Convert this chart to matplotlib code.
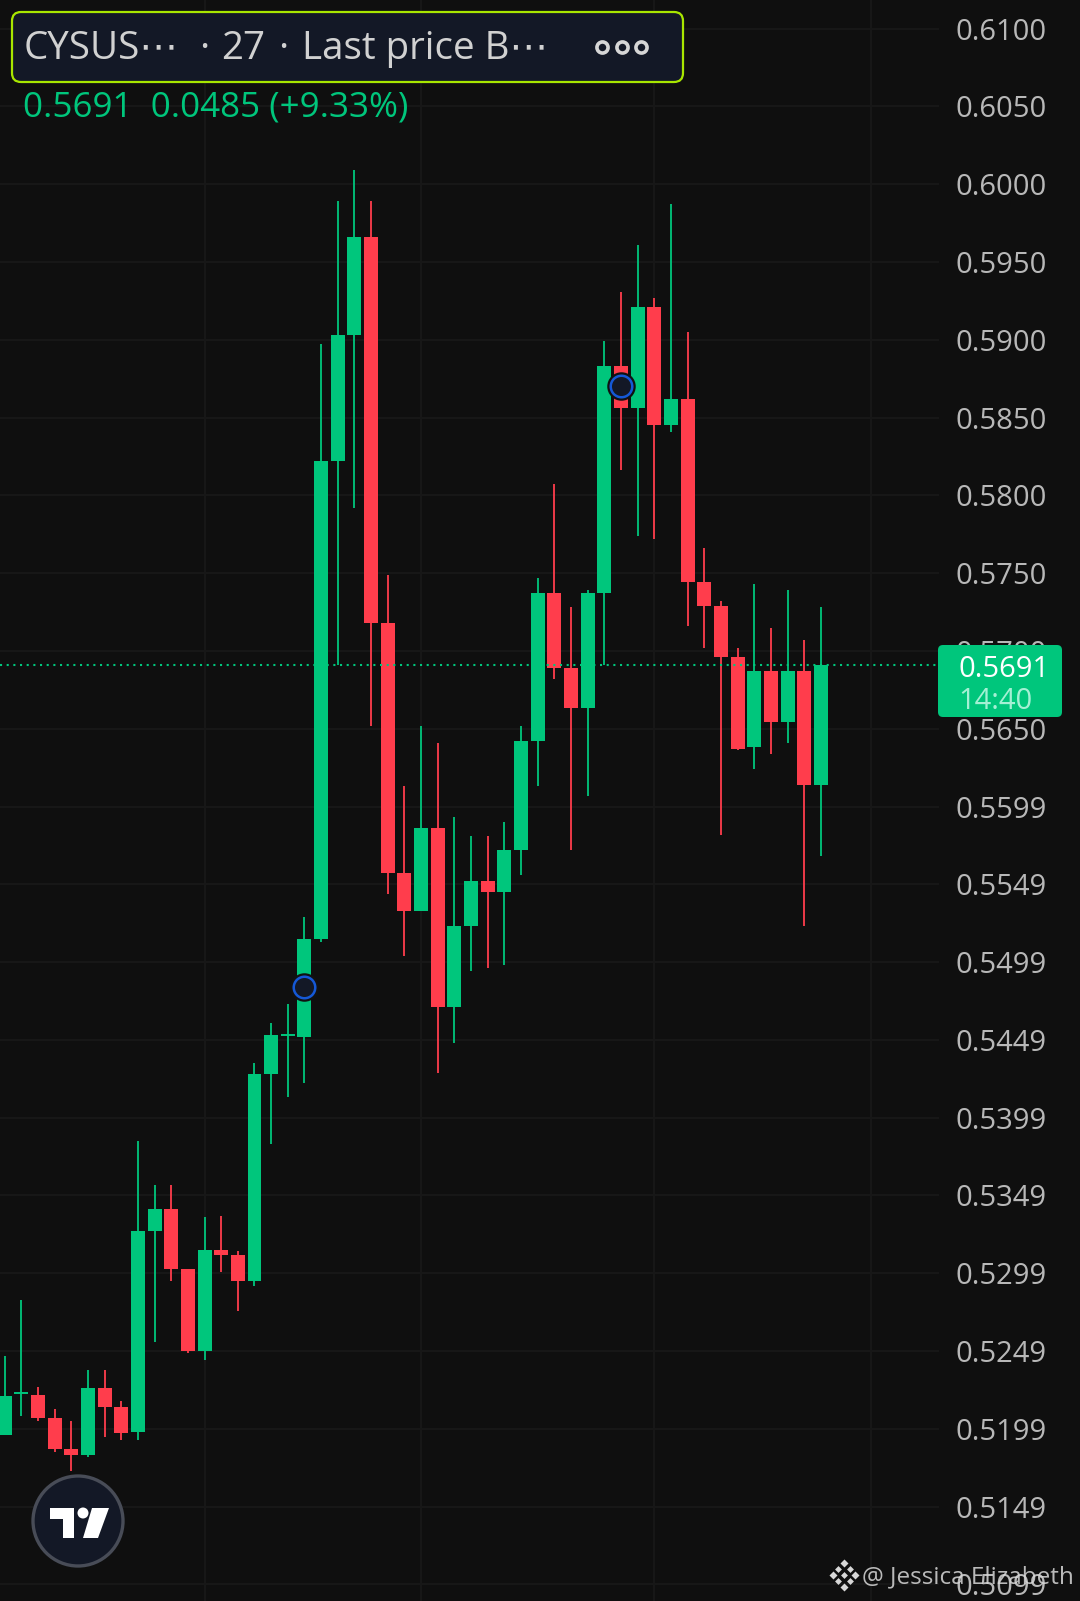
#!/usr/bin/env python3
import numpy as np
import matplotlib
matplotlib.use('Agg')
import matplotlib.pyplot as plt
from matplotlib.patches import FancyBboxPatch, Circle, Polygon

opens = [0.5196, 0.5223, 0.5222, 0.5207, 0.5187, 0.5183, 0.5226, 0.5214, 0.5198, 0.5327,
         0.5341, 0.5303, 0.5250, 0.5315, 0.5312, 0.5295, 0.5428, 0.5453, 0.5452, 0.5515,
         0.5822, 0.5903, 0.5966, 0.5718, 0.5557, 0.5533, 0.5586, 0.5471, 0.5523, 0.5552,
         0.5545, 0.5572, 0.5642, 0.5737, 0.5689, 0.5663, 0.5737, 0.5883, 0.5856, 0.5921,
         0.5845, 0.5862, 0.5744, 0.5729, 0.5696, 0.5638, 0.5687, 0.5654, 0.5687, 0.5614]
highs = [0.5247, 0.5283, 0.5227, 0.5213, 0.5205, 0.5238, 0.5238, 0.5218, 0.5385, 0.5357,
         0.5357, 0.5303, 0.5336, 0.5337, 0.5314, 0.5435, 0.5461, 0.5473, 0.5529, 0.5897,
         0.5989, 0.6009, 0.5989, 0.5749, 0.5613, 0.5652, 0.5641, 0.5593, 0.5581, 0.5581,
         0.5590, 0.5652, 0.5747, 0.5807, 0.5728, 0.5739, 0.5899, 0.5931, 0.5961, 0.5927,
         0.5987, 0.5905, 0.5766, 0.5732, 0.5702, 0.5743, 0.5715, 0.5739, 0.5707, 0.5728]
lows = [0.5196, 0.5208, 0.5205, 0.5185, 0.5173, 0.5182, 0.5195, 0.5193, 0.5193, 0.5256,
        0.5295, 0.5249, 0.5244, 0.5301, 0.5276, 0.5292, 0.5383, 0.5413, 0.5422, 0.5513,
        0.5691, 0.5792, 0.5652, 0.5544, 0.5504, 0.5533, 0.5429, 0.5448, 0.5494, 0.5496,
        0.5498, 0.5556, 0.5613, 0.5682, 0.5572, 0.5607, 0.5691, 0.5816, 0.5774, 0.5772,
        0.5841, 0.5716, 0.5702, 0.5582, 0.5636, 0.5624, 0.5634, 0.5641, 0.5523, 0.5568]
closes = [0.5221, 0.5223, 0.5207, 0.5187, 0.5183, 0.5226, 0.5214, 0.5197, 0.5327, 0.5341,
          0.5303, 0.5250, 0.5315, 0.5312, 0.5295, 0.5428, 0.5453, 0.5453, 0.5515, 0.5822,
          0.5903, 0.5966, 0.5718, 0.5557, 0.5533, 0.5586, 0.5471, 0.5523, 0.5552, 0.5545,
          0.5572, 0.5642, 0.5737, 0.5689, 0.5663, 0.5737, 0.5883, 0.5856, 0.5921, 0.5845,
          0.5862, 0.5744, 0.5729, 0.5696, 0.5637, 0.5687, 0.5654, 0.5687, 0.5614, 0.5691]

# the scale on the right is not quite even, labels are shown as on the chart
tick_labels = ['0.6100', '0.6050', '0.6000', '0.5950', '0.5900', '0.5850', '0.5800',
               '0.5750', '0.5700', '0.5650', '0.5599', '0.5549', '0.5499', '0.5449',
               '0.5399', '0.5349', '0.5299', '0.5249', '0.5199', '0.5149', '0.5099']
tick_values = [0.6100 - 0.005 * k for k in range(len(tick_labels))]
vgrid_candles = [12, 25, 39, 52]
marker_candles = [18, 37]
marker_prices = [0.5484, 0.5870]
last_price = 0.5691

BG = '#0f0f0f'
GRID = '#181818'
UP = '#00c67c'
DOWN = '#ff3d4c'
FONT = ['Open Sans', 'DejaVu Sans']
W, H = 1080, 1601

plt.rcParams['font.family'] = FONT
fig = plt.figure(figsize=(W / 100, H / 100), dpi=100, facecolor=BG)

# price axes fills the whole figure
ax = fig.add_axes([0, 0, 1, 1], facecolor=BG)
x0 = 4.6
dx = 16.66
y_ref = 28.6
dy = 77.79
ax.set_xlim((0 - x0) / dx, (W - x0) / dx)
ax.set_ylim(0.61 - (H - y_ref) / dy * 0.005, 0.61 + y_ref / dy * 0.005)
ax.axis('off')
ax.set_zorder(1)

# overlay in pixels for the app chrome
ui = fig.add_axes([0, 0, 1, 1], facecolor='none')
ui.set_xlim(0, W)
ui.set_ylim(H, 0)
ui.axis('off')
ui.set_zorder(2)

for v in tick_values:
    ax.plot([(0 - x0) / dx, (938 - x0) / dx], [v, v], color=GRID, lw=1.4, zorder=1)
for c in vgrid_candles:
    ax.axvline(c, color=GRID, lw=1.4, zorder=1)

o = np.array(opens)
h = np.array(highs)
l = np.array(lows)
c = np.array(closes)
idx = np.arange(len(o))
colors = [UP if ci >= oi else DOWN for oi, ci in zip(o, c)]

ax.vlines(idx, l, h, colors=colors, lw=1.3, zorder=3)
ax.bar(idx, np.abs(c - o), bottom=np.minimum(o, c), width=0.84, color=colors, lw=0, zorder=4)
flat = np.abs(c - o) < 0.00005
ax.hlines(o[flat], idx[flat] - 0.42, idx[flat] + 0.42, colors=np.array(colors)[flat], lw=1.4, zorder=4)

ax.plot([(0 - x0) / dx, (940 - x0) / dx], [last_price, last_price], color=UP, lw=1.5,
        ls=(0, (1, 2.2)), zorder=5)

# bar markers
ax.plot(marker_candles, marker_prices, 'o', ms=16.5, mfc='#131826', mec='#111111', mew=4, zorder=6)
ax.plot(marker_candles, marker_prices, 'o', ms=15.5, mfc='#131826', mec='#1558d6', mew=1.8, zorder=7)

# price scale
for v, s in zip(tick_values, tick_labels):
    ax.text((956 - x0) / dx, v, s, color='#b8b8b8', fontsize=21, va='center_baseline', ha='left', zorder=2)

# legend box
ui.add_patch(FancyBboxPatch((12, 12), 671, 70, boxstyle='round,pad=0,rounding_size=9',
                            fc='#131826', ec='#a8e600', lw=1.6, zorder=3))
for px, s in [(24, 'CYSUS\u22ef'), (199, '\u00b7'), (221, '27'), (278, '\u00b7'), (302, 'Last price B\u22ef')]:
    ui.text(px, 59, s, color='#d1d1d1', fontsize=27.7, va='baseline', ha='left', zorder=4)
ui.plot([602, 622, 641], [47, 47, 47], 'o', ms=8, mfc='none', mec='#d6d6d6', mew=2.6, zorder=4)
ui.text(23, 116, '0.5691  0.0485 (+9.33%)', color=UP, fontsize=25.2, va='baseline',
        ha='left', zorder=4)

# last price tag
ui.add_patch(FancyBboxPatch((938, 645), 124, 72, boxstyle='round,pad=0,rounding_size=5',
                            fc=UP, ec='none', zorder=3))
ui.text(958, 666, '0.5691', color='white', fontsize=21, va='center_baseline', ha='left', zorder=4)
ui.text(958, 698, '14:40', color='#a4f0d4', fontsize=21, va='center_baseline', ha='left', zorder=4)

# tradingview badge
ui.add_patch(Circle((78, 1521), 45, fc='#131826', ec='#484c57', lw=2.4, zorder=3))
ui.add_patch(Polygon([(50, 1508), (74, 1508), (74, 1538), (63, 1538), (63, 1519), (50, 1519)],
                     fc='white', ec='none', zorder=4))
ui.add_patch(Circle((83, 1513), 5.5, fc='white', ec='none', zorder=4))
ui.add_patch(Polygon([(92, 1508), (109, 1508), (98, 1538), (83, 1538)], fc='white', ec='none', zorder=4))

# watermark
mx = [844, 844, 833, 855]
my = [1563, 1587, 1575, 1575]
ui.plot(mx, my, 'D', ms=4.5, mfc='#d8d8d8', mec='none', zorder=5)
ui.plot([838, 850, 838, 850], [1569, 1569, 1581, 1581], 'D', ms=3.5, mfc='#d8d8d8', mec='none', zorder=5)
ui.plot([844], [1575], 'D', ms=3.5, mfc='#d8d8d8', mec='none', zorder=5)
ui.text(862, 1574, '@ Jessica Elizabeth', color='#d8d8d8', fontsize=17.5, alpha=0.85,
        va='center_baseline', ha='left', zorder=5)

fig.savefig('out.png', dpi=100, facecolor=BG)
